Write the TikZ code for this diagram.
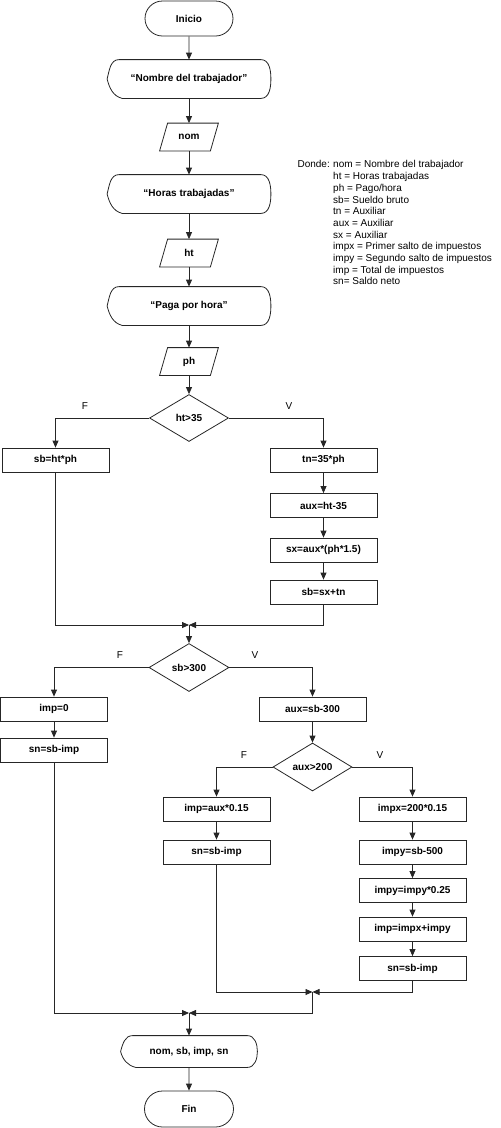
\documentclass[tikz,border=0pt]{standalone}
\usepackage{fontspec}
\setmainfont{Liberation Sans}
\usetikzlibrary{shapes.geometric,shapes.misc,arrows.meta}
\newcommand\dispoutline[1]{%
  \draw[outline] ([xshift=12pt]#1.north west) -- ([xshift=-10pt]#1.north east)
    to[out=0,in=90] (#1.east) to[out=-90,in=0] ([xshift=-10pt]#1.south east)
    -- ([xshift=15pt]#1.south west) to[out=165,in=-75] (#1.west)
    to[out=75,in=180] ([xshift=12pt]#1.north west) -- cycle;}
\newcommand\paraoutline[1]{%
  \draw[outline] ([xshift=8pt]#1.north west) -- (#1.north east)
    -- ([xshift=-8pt]#1.south east) -- (#1.south west) -- cycle;}
\begin{document}
\begin{tikzpicture}[x=1pt,y=-1pt,
  base/.style={draw=black!85, line width=0.8pt, font=\bfseries\fontsize{10}{12}\selectfont, inner sep=1pt},
  term/.style={base, rounded rectangle, minimum width=90pt, minimum height=35pt},
  proc/.style={base, rectangle, minimum width=107pt, minimum height=24pt},
  cond/.style={base, diamond, aspect=1.68, minimum width=79pt, minimum height=47pt, inner sep=0pt},
  disp/.style={base, draw=none, minimum height=38pt},
  para/.style={base, draw=none, minimum width=58pt, minimum height=27pt},
  arr/.style={draw=black!85, line width=0.8pt, -{Triangle[length=7pt,width=6pt]}},
  lbl/.style={font=\fontsize{10}{11.7}\selectfont},
  outline/.style={draw=black!85, line width=0.8pt}]
\useasboundingbox (0,0) rectangle (501,1128);

% main column
\node[term] (start) at (189,18.5) {Inicio};
\node[disp, minimum width=163pt] (d1) at (189,79) {“Nombre del trabajador”};
\dispoutline{d1}
\node[para] (p1) at (189,137) {nom};
\paraoutline{p1}
\node[disp, minimum width=163pt] (d2) at (189,194) {“Horas trabajadas”};
\dispoutline{d2}
\node[para] (p2) at (189,253) {ht};
\paraoutline{p2}
\node[disp, minimum width=163pt] (d3) at (189,306) {“Paga por hora”};
\dispoutline{d3}
\node[para] (p3) at (189,361.5) {ph};
\paraoutline{p3}

\draw[arr] (start) -- (d1);
\draw[arr] (d1) -- (p1);
\draw[arr] (p1) -- (d2);
\draw[arr] (d2) -- (p2);
\draw[arr] (p2) -- (d3);
\draw[arr] (d3) -- (p3);

% first decision
\node[cond] (c1) at (189,418) {ht>35};
\draw[arr] (p3) -- (c1);
\node[lbl] (f1) at (85,406) {F};
\node[lbl] (v1) at (289,406) {V};
\node[proc] (b1) at (55.5,460) {sb=ht*ph};
\node[proc] (b2) at (323.5,460) {tn=35*ph};
\node[proc] (b3) at (323.5,505.5) {aux=ht-35};
\node[proc] (b4) at (323.5,550) {sx=aux*(ph*1.5)};
\node[proc] (b5) at (323.5,592) {sb=sx+tn};
\draw[arr] (c1.west) -| (b1.north);
\draw[arr] (c1.east) -| (b2.north);
\draw[arr] (b2) -- (b3);
\draw[arr] (b3) -- (b4);
\draw[arr] (b4) -- (b5);
\coordinate (m1) at (189,625);
\draw[arr] (b1.south) |- (m1);
\draw[arr] (b5.south) |- (m1);

% second decision
\node[cond, minimum height=48pt, minimum width=80pt] (c2) at (189,667.5) {sb>300};
\draw[arr] (m1) -- (c2.north);
\node[lbl] (f2) at (120,655) {F};
\node[lbl] (v2) at (255,655) {V};
\node[proc] (b6) at (54,709) {imp=0};
\node[proc] (b7) at (54,750) {sn=sb-imp};
\node[proc] (b8) at (312.5,709) {aux=sb-300};
\draw[arr] (c2.west) -| (b6.north);
\draw[arr] (c2.east) -| (b8.north);
\draw[arr] (b6) -- (b7);

% third decision
\node[cond, minimum height=48pt] (c3) at (312.5,767) {aux>200};
\draw[arr] (b8) -- (c3);
\node[lbl] (f3) at (244,755) {F};
\node[lbl] (v3) at (380,755) {V};
\node[proc] (b9) at (216.5,809) {imp=aux*0.15};
\node[proc] (b10) at (216.5,852) {sn=sb-imp};
\node[proc] (b11) at (412.5,809) {impx=200*0.15};
\node[proc] (b12) at (412.5,852) {impy=sb-500};
\node[proc] (b13) at (412.5,890.5) {impy=impy*0.25};
\node[proc] (b14) at (412.5,929) {imp=impx+impy};
\node[proc] (b15) at (412.5,968.5) {sn=sb-imp};
\draw[arr] (c3.west) -| (b9.north);
\draw[arr] (c3.east) -| (b11.north);
\draw[arr] (b9) -- (b10);
\draw[arr] (b11) -- (b12);
\draw[arr] (b12) -- (b13);
\draw[arr] (b13) -- (b14);
\draw[arr] (b14) -- (b15);
\coordinate (m2) at (312.5,992);
\draw[arr] (b10.south) |- (m2);
\draw[arr] (b15.south) |- (m2);

% final merge and output
\coordinate (m3) at (189,1013);
\draw[arr] (b7.south) |- (m3);
\draw[arr] (m2) |- (m3);
\node[disp, minimum width=136pt, minimum height=31pt] (d4) at (189,1051.5) {nom, sb, imp, sn};
\dispoutline{d4}
\draw[arr] (m3) -- (d4.north);
\node[term, minimum width=91pt, minimum height=36pt] (end) at (189,1109) {Fin};
\draw[arr] (d4) -- (end);

% legend
\node[lbl, align=left, anchor=north west, inner sep=0pt] (leg) at (333,160.5)
  {nom = Nombre del trabajador\\
   ht = Horas trabajadas\\
   ph = Pago/hora\\
   sb= Sueldo bruto\\
   tn = Auxiliar\\
   aux = Auxiliar\\
   sx = Auxiliar\\
   impx = Primer salto de impuestos\\
   impy = Segundo salto de impuestos\\
   imp = Total de impuestos\\
   sn= Saldo neto};
\node[lbl, anchor=north east, inner sep=0pt] (donde) at ([xshift=-3pt]leg.north west) {Donde:};
\end{tikzpicture}
\end{document}
